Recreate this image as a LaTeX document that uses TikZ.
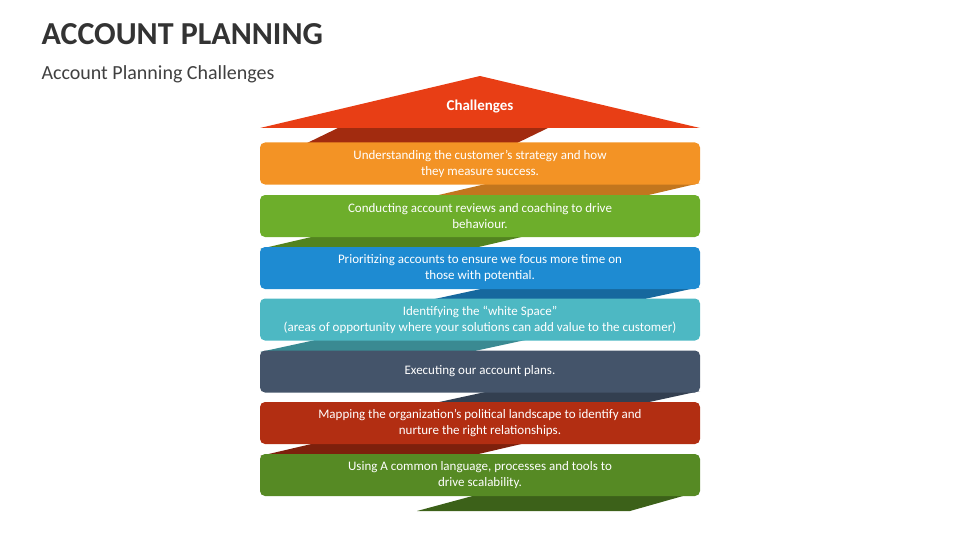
\documentclass[tikz,border=0pt]{standalone}
\usepackage{fontspec}
\setmainfont{Carlito}
\begin{document}
\begin{tikzpicture}[x=1pt,y=-1pt,
  bar/.style={rounded corners=5pt,minimum width=440pt,minimum height=42pt,text=white,align=center,font=\fontsize{13}{16}\selectfont,inner sep=0pt},
  conn/.style={draw=none}]
\useasboundingbox (0,0) rectangle (960,540);
\definecolor{cor}{HTML}{F39325}\definecolor{cgr}{HTML}{6DAE2B}\definecolor{cbl}{HTML}{1E8BD2}
\definecolor{cte}{HTML}{4DB8C3}\definecolor{csl}{HTML}{44546A}\definecolor{cre}{HTML}{B22E12}
\definecolor{cdg}{HTML}{568A24}\definecolor{ctop}{HTML}{E83E15}
\node[anchor=west,font=\bfseries\fontsize{32}{36}\selectfont,text=black!80] (t) at (38,34) {ACCOUNT PLANNING};
\node[anchor=west,font=\fontsize{20}{24}\selectfont,text=black!75] (s) at (38,74) {Account Planning Challenges};
% connectors
\fill[ctop!70!black] (305,144)--(515,144)--(548,128)--(338,128)--cycle;
\fill[cor!80!black] (430,197)--(640,197)--(700,183)--(490,183)--cycle;
\fill[cgr!75!black] (260,249)--(470,249)--(530,235)--(320,235)--cycle;
\fill[cbl!75!black] (430,300)--(640,300)--(700,287)--(490,287)--cycle;
\fill[cte!75!black] (260,352)--(470,352)--(530,339)--(320,339)--cycle;
\fill[csl!75!black] (430,404)--(640,404)--(700,391)--(490,391)--cycle;
\fill[cre!70!black] (260,456)--(470,456)--(530,442)--(320,442)--cycle;
\fill[cdg!70!black] (417,511)--(630,511)--(690,494)--(480,494)--cycle;
% top
\fill[ctop] (480,76)--(700,128)--(260,128)--cycle;
\node[text=white,font=\bfseries\fontsize{15}{18}\selectfont] (ch) at (480,107) {Challenges};
% bars
\begin{scope}[every node/.append style={bar}]
\node[fill=cor] (b1) at (480,163.5) {Understanding the customer’s strategy and how\\they measure success.};
\node[fill=cgr] (b2) at (480,216) {Conducting account reviews and coaching to drive\\behaviour.};
\node[fill=cbl] (b3) at (480,268) {Prioritizing accounts to ensure we focus more time on\\those with potential.};
\node[fill=cte] (b4) at (480,319.5) {Identifying the “white Space”\\(areas of opportunity where your solutions can add value to the customer)};
\node[fill=csl] (b5) at (480,371.5) {Executing our account plans.};
\node[fill=cre] (b6) at (480,423) {Mapping the organization’s political landscape to identify and\\nurture the right relationships.};
\node[fill=cdg] (b7) at (480,475) {Using A common language, processes and tools to\\drive scalability.};
\end{scope}
\end{tikzpicture}
\end{document}
